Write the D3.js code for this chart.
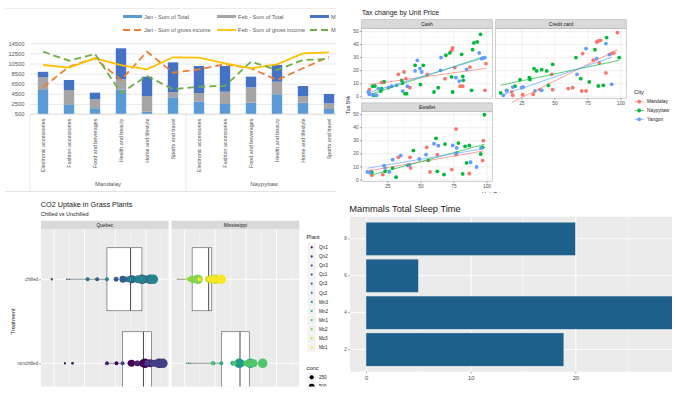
<!DOCTYPE html>
<html>
<head>
<meta charset="utf-8">
<script src="https://cdn.jsdelivr.net/npm/d3@7"></script>
<style>
  body { margin: 0; background: #fff; }
  svg { display: block; font-family: "Liberation Sans", Arial, sans-serif; }
</style>
</head>
<body>
<div id="chart"></div>
<script>
// ---------- data: sales by city / product line (Excel style chart) ----------
var cities = ["Mandalay", "Naypyitaw"];
var productLines = ["Electronic accessories", "Fashion accessories", "Food and beverages",
  "Health and beauty", "Home and lifestyle", "Sports and travel"];
var salesTicks = [500, 2500, 4500, 6500, 8500, 10500, 12500, 14500];
var janTotal = [5250, 2300, 1630, 5350, 950, 3800, 2950, 2480, 2740, 4400, 2740, 1490];
var febTotal = [2500, 2950, 1780, 2020, 3110, 1050, 1700, 2440, 3050, 2500, 1320, 1130];
var marTotal = [1100, 1980, 1310, 6140, 3820, 5880, 5350, 5090, 2100, 3300, 1980, 1840];
var janGross = [5790, 9870, 11530, 7230, 12840, 8680, 9350, 10340, 9550, 7230, 9550, 11850];
var febGross = [10200, 9670, 11530, 10200, 9350, 11730, 11650, 10540, 9550, 10340, 12520, 12720];
var marGross = [12840, 11050, 12380, 4660, 8030, 5390, 5910, 6050, 10860, 9210, 11190, 11390];

// ---------- data: tax vs unit price, [unit price, tax] ----------
var cityNames = ["Mandalay", "Naypyitaw", "Yangon"];
var cashMandalay = [[11.4,5.1],[11.4,2.0],[20.7,10.5],[22,11],[33.3,16.8],[37.6,18.6],[42.1,6.6],[39,13.5],
  [55.2,16.8],[68.6,13.5],[74.4,37],[73.7,35.2],[80,7.7],[82,7.7],[87.5,22.4],[98.8,4.6],[99.6,25],[76,22]];
var cashNaypyitaw = [[14.4,0.8],[15.6,0.8],[13.9,7.7],[15.6,7.9],[20.7,5.9],[20,4],[22.7,11],[35.8,12.2],
  [36.6,10.2],[38.4,2],[39.6,2],[46,23.7],[52.2,23.7],[60.3,3.3],[63.5,6.6],[69.3,31.4],[72.3,33.2],
  [73.6,14.8],[74.4,3.3],[81.2,32.1],[82,15.3],[82.4,12.2],[89.5,35.7],[90.5,40.8],[93,41.6],[95.5,47.4],
  [88.7,4.6],[50,9]];
var cashYangon = [[10.6,3.3],[11.4,1.5],[13.9,1.3],[16.9,0.8],[18.2,5.9],[25.8,6.6],[28.3,7.7],[32,8.4],
  [36.6,4],[40.1,7.7],[46,19.4],[47.7,27.5],[49.7,21.2],[51,18.6],[65.6,29.6],[65.3,19.9],[76.9,14.3],
  [79.4,11.7],[94.5,33.2],[96.3,28.8],[97.5,29.3],[98.8,29.6],[85,20.5]];
var creditMandalay = [[17.7,3.3],[18.5,0.8],[26,1.3],[34,1.5],[39.1,5.1],[48.7,5.1],[47.9,16.8],[60.5,5.9],
  [63.8,6.6],[71.4,32.7],[70.6,4.1],[73.9,4.1],[79.4,27.6],[82,41.6],[83.2,42.3],[85,42.8],[84,25.5],
  [89,17.9],[93.3,32.7],[95,33.2],[97.7,48.7]];
var creditNaypyitaw = [[9.4,2.6],[13.9,4.6],[20.2,7.7],[24,12.8],[31,14.3],[31.5,12.8],[34.6,21.2],[36.6,19.4],
  [40.4,20.4],[44.2,19.4],[48.7,24.5],[45.4,8.4],[66.3,29.6],[69.9,13.5],[76.4,11],[80.7,35.7],[83.2,7.9],
  [87,8.4],[89.5,44.9],[99,29.6]];
var creditYangon = [[11.4,0.8],[13.9,4.1],[18.5,7.1],[25.2,6.6],[26.4,7.1],[35.3,4.1],[40.4,4.6],[73.9,36.5],
  [67.1,16.8],[82,28.8],[89,40.3],[91.5,31.9],[93.3,9.2]];
var ewalletMandalay = [[13.2,3.3],[12.4,6.3],[21.5,3.8],[33.3,17],[42.2,17],[42.7,8.9],[54.8,24.6],[57.3,5.8],
  [62.8,19],[73.7,7.6],[77,38.6],[77,19],[87,4.6],[97.1,14.5],[97.6,29.7]];
var ewalletNaypyitaw = [[13.2,5.6],[23.3,6.3],[29,8.9],[31.6,1.8],[44.7,22.1],[56,14.7],[61.8,31.5],[62.8,6.3],
  [68.6,27.1],[67.9,3.8],[78.7,27.9],[82,4.3],[83.8,25.4],[85,12.7],[87,26.1],[95.6,19.5],[97.1,24.6],[98.4,49.5]];
var ewalletYangon = [[9.9,5.8],[11.9,5.1],[22.5,10.7],[23.3,8.9],[26.5,5.8],[29,15.2],[35.1,18.3],[40.4,10.9],
  [41.7,11.4],[49.2,15.7],[54.3,19],[60.3,27.4],[63.6,25.9],[74.4,26.1],[77.5,24.1],[77.5,20.3],[92.5,9.6],
  [95.9,24.1],[88,13.2]];
var taxTicks = [0, 10, 20, 30, 40, 50];
var priceTicks = [25, 50, 75, 100];

// ---------- data: CO2 uptake (grass plants) ----------
var plants = ["Qn1", "Qn2", "Qn3", "Qc1", "Qc3", "Qc2", "Mn3", "Mn2", "Mn1", "Mc2", "Mc3", "Mc1"];
var concLevels = [95, 175, 250, 350, 500, 675, 1000];
var uptake = [
  [16.0, 30.4, 34.8, 37.2, 35.3, 39.2, 39.7],
  [13.6, 27.3, 37.1, 41.8, 40.6, 41.4, 44.3],
  [16.2, 32.4, 40.3, 42.1, 42.9, 43.9, 45.5],
  [14.2, 24.1, 30.3, 34.6, 32.5, 35.4, 38.7],
  [15.1, 21.0, 38.1, 34.0, 38.9, 39.6, 41.4],
  [9.3, 27.3, 35.0, 38.8, 38.6, 37.5, 42.4],
  [11.3, 19.4, 25.8, 27.9, 28.5, 28.1, 27.8],
  [12.0, 22.0, 30.6, 31.8, 32.4, 31.1, 31.5],
  [10.6, 19.2, 26.2, 30.0, 30.9, 32.4, 35.5],
  [7.7, 11.4, 12.3, 13.0, 12.5, 13.7, 14.4],
  [10.6, 18.0, 17.9, 17.9, 17.9, 18.9, 19.9],
  [10.5, 14.9, 18.1, 18.9, 19.5, 22.2, 21.9]
];
var plantTypes = ["Quebec", "Mississippi"];
var treatments = ["chilled", "nonchilled"];
var uptakeTicks = [10, 15, 20, 25, 30, 35, 40, 45];

// ---------- data: mammals sleep ----------
var sleepGroups = ["8", "6", "4", "2"];
var sleepTotal = [20.0, 5.0, 30.5, 18.9];
var sleepTicks = [0, 10, 20];

var svg = d3.select("#chart").append("svg").attr("width", 680).attr("height", 394);
var defs = svg.append("defs");
function clip(id, x, y, w, h) {
  defs.append("clipPath").attr("id", id).append("rect")
    .attr("x", x).attr("y", y).attr("width", w).attr("height", h);
  return "url(#" + id + ")";
}

// faint frame lines of the dashboard
svg.append("line").attr("x1", 5).attr("x2", 336).attr("y1", 8.5).attr("y2", 8.5).attr("stroke", "#ececec");
svg.append("line").attr("x1", 5).attr("x2", 336).attr("y1", 191.5).attr("y2", 191.5).attr("stroke", "#e3e3e3");

// =====================================================================
// 1. Excel style stacked column + lines
// =====================================================================
var p1 = svg.append("g").attr("clip-path", clip("c1", 0, 0, 336, 191));
var xs1 = d3.scaleBand().domain(d3.range(12)).range([30, 342]).paddingInner(0.6).paddingOuter(0.3);
var ys1 = d3.scaleLinear().domain([500, 14500]).range([114, 43.3]);
var bw1 = xs1.bandwidth();

p1.append("g").attr("transform", "translate(30,0)")
  .call(d3.axisLeft(ys1).tickValues(salesTicks).tickSize(-312).tickFormat(""))
  .call(g => g.select(".domain").remove())
  .call(g => g.selectAll("line").attr("stroke", "#d9d9d9").attr("stroke-width", 0.6));

p1.append("g").attr("transform", "translate(24.5,0)")
  .call(d3.axisLeft(ys1).tickValues(salesTicks).tickSize(0).tickPadding(0).tickFormat(d3.format("d")))
  .call(g => g.select(".domain").remove())
  .call(g => g.selectAll("text").attr("fill", "#595959").attr("font-size", 5.8)
    .attr("font-family", "Liberation Sans, Arial, sans-serif"));

var rows = d3.range(12).map(i => ({ jan: janTotal[i], feb: febTotal[i], mar: marTotal[i] }));
var stacked = d3.stack().keys(["jan", "feb", "mar"])(rows);
var barColors = { jan: "#5b9bd5", feb: "#a5a5a5", mar: "#4472c4" };

p1.selectAll("g.series").data(stacked).enter().append("g")
  .attr("fill", d => barColors[d.key])
  .selectAll("rect").data(d => d).enter().append("rect")
  .attr("x", (d, i) => xs1(i))
  .attr("width", bw1)
  .attr("y", d => ys1(d[1]))
  .attr("height", d => ys1(Math.max(d[0], 500)) - ys1(d[1]));

var line1 = d3.line().x((d, i) => xs1(i) + bw1 / 2).y(d => ys1(d));
p1.append("path").datum(janGross).attr("d", line1).attr("fill", "none")
  .attr("stroke", "#ed7d31").attr("stroke-width", 1.8).attr("stroke-dasharray", "7,4");
p1.append("path").datum(febGross).attr("d", line1).attr("fill", "none")
  .attr("stroke", "#ffc000").attr("stroke-width", 1.8);
p1.append("path").datum(marGross).attr("d", line1).attr("fill", "none")
  .attr("stroke", "#70ad47").attr("stroke-width", 1.8).attr("stroke-dasharray", "7,4");

// category axis
var catLabels = [];
cities.forEach(c => productLines.forEach(p => catLabels.push(p)));
p1.selectAll("text.cat").data(catLabels).enter().append("text")
  .attr("transform", (d, i) => "translate(" + (xs1(i) + bw1 / 2 + 2) + ",118.5) rotate(-90)")
  .attr("text-anchor", "end")
  .attr("font-size", 5.4).attr("fill", "#595959")
  .text(d => d);
[30, 186, 342].forEach(x => {
  p1.append("line").attr("x1", x).attr("x2", x).attr("y1", 114).attr("y2", 191)
    .attr("stroke", "#d9d9d9").attr("stroke-width", 0.6);
});
p1.append("line").attr("x1", 30).attr("x2", 342).attr("y1", 114).attr("y2", 114)
  .attr("stroke", "#d9d9d9").attr("stroke-width", 0.6);
cities.forEach((c, k) => {
  p1.append("text").attr("x", (xs1(k * 6) + xs1(k * 6 + 5) + bw1) / 2).attr("y", 186)
    .attr("text-anchor", "middle").attr("font-size", 6).attr("fill", "#595959").text(c);
});

// legend (third column is cut off at the panel edge, only its first letter shows)
var leg1 = [
  { t: "Jan - Sum of Total", x: 123, y: 16.5, c: "#5b9bd5", kind: "bar" },
  { t: "Feb - Sum of Total", x: 217, y: 16.5, c: "#a5a5a5", kind: "bar" },
  { t: "M", x: 310, y: 16.5, c: "#4472c4", kind: "bar" },
  { t: "Jan - Sum of gross income", x: 123, y: 30, c: "#ed7d31", kind: "dash" },
  { t: "Feb - Sum of gross income", x: 217, y: 30, c: "#ffc000", kind: "solid" },
  { t: "M", x: 310, y: 30, c: "#70ad47", kind: "dash" }
];
leg1.forEach(d => {
  if (d.kind === "bar") {
    p1.append("rect").attr("x", d.x).attr("y", d.y - 1.5).attr("width", 19).attr("height", 3).attr("fill", d.c);
  } else {
    p1.append("line").attr("x1", d.x).attr("x2", d.x + 19).attr("y1", d.y).attr("y2", d.y)
      .attr("stroke", d.c).attr("stroke-width", 1.8).attr("stroke-dasharray", d.kind === "dash" ? "7,4" : null);
  }
  p1.append("text").attr("x", d.x + 21).attr("y", d.y + 2).attr("font-size", 5.6).attr("fill", "#595959").text(d.t);
});

// =====================================================================
// 2. Tax change by unit price (facets)
// =====================================================================
var p2 = svg.append("g").attr("clip-path", clip("c2", 337, 0, 343, 193));
var cityColors = ["#f8766d", "#00ba38", "#619cff"];
var panelW = 130.6, panelH = 70;
var facets = [
  { name: "Cash", x0: 361.7, y0: 28.3, sets: [cashMandalay, cashNaypyitaw, cashYangon], xAxis: false },
  { name: "Credit card", x0: 495.7, y0: 28.3, sets: [creditMandalay, creditNaypyitaw, creditYangon], xAxis: true },
  { name: "Ewallet", x0: 361.7, y0: 111.5, sets: [ewalletMandalay, ewalletNaypyitaw, ewalletYangon], xAxis: true }
];

function fitLine(pts) {
  var mx = d3.mean(pts, d => d[0]), my = d3.mean(pts, d => d[1]);
  var sxy = d3.sum(pts, d => (d[0] - mx) * (d[1] - my));
  var sxx = d3.sum(pts, d => (d[0] - mx) * (d[0] - mx));
  var b = sxy / sxx;
  var ext = d3.extent(pts, d => d[0]);
  return ext.map(x => [x, my + b * (x - mx)]);
}

facets.forEach(f => {
  var xs = d3.scaleLinear().domain([5.6, 104.4]).range([f.x0, f.x0 + panelW]);
  var ys = d3.scaleLinear().domain([-1.5, 52]).range([f.y0 + panelH, f.y0]);
  var g = p2.append("g");
  g.append("rect").attr("x", f.x0).attr("y", f.y0).attr("width", panelW).attr("height", panelH).attr("fill", "#fff");
  // minor grid
  [12.5, 37.5, 62.5, 87.5].forEach(v => g.append("line").attr("x1", xs(v)).attr("x2", xs(v))
    .attr("y1", f.y0).attr("y2", f.y0 + panelH).attr("stroke", "#f3f3f3").attr("stroke-width", 0.4));
  [5, 15, 25, 35, 45].forEach(v => g.append("line").attr("y1", ys(v)).attr("y2", ys(v))
    .attr("x1", f.x0).attr("x2", f.x0 + panelW).attr("stroke", "#f3f3f3").attr("stroke-width", 0.4));
  // major grid
  g.append("g").attr("transform", "translate(0," + (f.y0 + panelH) + ")")
    .call(d3.axisBottom(xs).tickValues(priceTicks).tickSize(-panelH).tickFormat(""))
    .call(a => a.select(".domain").remove())
    .call(a => a.selectAll("line").attr("stroke", "#e6e6e6").attr("stroke-width", 0.6));
  g.append("g").attr("transform", "translate(" + f.x0 + ",0)")
    .call(d3.axisLeft(ys).tickValues(taxTicks).tickSize(-panelW).tickFormat(""))
    .call(a => a.select(".domain").remove())
    .call(a => a.selectAll("line").attr("stroke", "#e6e6e6").attr("stroke-width", 0.6));

  f.sets.forEach((pts, k) => {
    g.append("g").selectAll("circle").data(pts).enter().append("circle")
      .attr("cx", d => xs(d[0])).attr("cy", d => ys(d[1])).attr("r", 1.9)
      .attr("fill", cityColors[k]);
  });
  f.sets.forEach((pts, k) => {
    g.append("path").datum(fitLine(pts))
      .attr("d", d3.line().x(d => xs(d[0])).y(d => ys(d[1])))
      .attr("stroke", cityColors[k]).attr("stroke-width", 0.9).attr("opacity", 0.75).attr("fill", "none");
  });

  g.append("rect").attr("x", f.x0).attr("y", f.y0).attr("width", panelW).attr("height", panelH)
    .attr("fill", "none").attr("stroke", "#b3b3b3").attr("stroke-width", 0.6);
  g.append("rect").attr("x", f.x0).attr("y", f.y0 - 8.6).attr("width", panelW).attr("height", 8.6)
    .attr("fill", "#d9d9d9").attr("stroke", "#b3b3b3").attr("stroke-width", 0.6);
  g.append("text").attr("x", f.x0 + panelW / 2).attr("y", f.y0 - 2.5).attr("text-anchor", "middle")
    .attr("font-size", 5).attr("fill", "#1a1a1a").text(f.name);

  if (f.x0 < 400) {
    g.append("g").attr("transform", "translate(" + f.x0 + ",0)")
      .call(d3.axisLeft(ys).tickValues(taxTicks).tickSize(1.8).tickPadding(1.2))
      .call(a => a.select(".domain").remove())
      .call(a => a.selectAll("line").attr("stroke", "#4d4d4d").attr("stroke-width", 0.5))
      .call(a => a.selectAll("text").attr("font-size", 4.8).attr("fill", "#4d4d4d"));
  }
  if (f.xAxis) {
    g.append("g").attr("transform", "translate(0," + (f.y0 + panelH) + ")")
      .call(d3.axisBottom(xs).tickValues(priceTicks).tickSize(1.8).tickPadding(1.2))
      .call(a => a.select(".domain").remove())
      .call(a => a.selectAll("line").attr("stroke", "#4d4d4d").attr("stroke-width", 0.5))
      .call(a => a.selectAll("text").attr("font-size", 4.8).attr("fill", "#4d4d4d"));
  }
});

p2.append("text").attr("x", 361.7).attr("y", 15).attr("font-size", 7).attr("fill", "#1a1a1a")
  .text("Tax change by Unit Price");
p2.append("text").attr("transform", "translate(350,105) rotate(-90)").attr("text-anchor", "middle")
  .attr("font-size", 5.5).attr("fill", "#1a1a1a").text("Tax 5%");
p2.append("text").attr("x", 494).attr("y", 196).attr("text-anchor", "middle")
  .attr("font-size", 5.5).attr("fill", "#1a1a1a").text("Unit Price");

p2.append("text").attr("x", 634).attr("y", 93.5).attr("font-size", 5.8).attr("fill", "#1a1a1a").text("City");
cityNames.forEach((c, k) => {
  var y = 101.7 + k * 8.8;
  p2.append("line").attr("x1", 634.5).attr("x2", 644).attr("y1", y).attr("y2", y)
    .attr("stroke", cityColors[k]).attr("stroke-width", 0.8).attr("opacity", 0.75);
  p2.append("circle").attr("cx", 639.2).attr("cy", y).attr("r", 1.9).attr("fill", cityColors[k]);
  p2.append("text").attr("x", 647).attr("y", y + 1.7).attr("font-size", 4.8).attr("fill", "#1a1a1a").text(c);
});

// =====================================================================
// 3. CO2 uptake in grass plants
// =====================================================================
var p3 = svg.append("g").attr("clip-path", clip("c3", 0, 193, 336, 193.5));
var viridis = ["#440154", "#482173", "#433e85", "#38598c", "#2d708e", "#25858e",
  "#1e9b8a", "#2bb07f", "#51c56a", "#85d54a", "#c2df23", "#fde725"];
var co2W = 127.6, co2Top = 229.3, co2Bot = 413.7;
var ys3 = d3.scalePoint().domain(treatments).range([279.3, 363.3]);
var rScale = d3.scaleLinear().domain([95, 1000]).range([0, 1]);
function rConc(c) { return 0.8 + 4 * Math.sqrt(rScale(c)); }

var obs = [];
plants.forEach((p, i) => {
  uptake[i].forEach((u, j) => {
    obs.push({
      plant: p, idx: i, conc: concLevels[j], uptake: u,
      type: p[0] === "Q" ? "Quebec" : "Mississippi",
      treat: p[1] === "n" ? "nonchilled" : "chilled"
    });
  });
});

plantTypes.forEach((type, k) => {
  var x0 = k === 0 ? 41 : 171.6;
  var xs = d3.scaleLinear().domain([5.81, 47.39]).range([x0, x0 + co2W]);
  var g = p3.append("g");
  g.append("rect").attr("x", x0).attr("y", co2Top).attr("width", co2W).attr("height", co2Bot - co2Top).attr("fill", "#ebebeb");
  uptakeTicks.forEach(v => {
    g.append("line").attr("x1", xs(v)).attr("x2", xs(v)).attr("y1", co2Top).attr("y2", co2Bot)
      .attr("stroke", "#fff").attr("stroke-width", v % 10 === 0 ? 0.9 : 0.45);
  });
  treatments.forEach(t => {
    g.append("line").attr("x1", x0).attr("x2", x0 + co2W).attr("y1", ys3(t)).attr("y2", ys3(t))
      .attr("stroke", "#fff").attr("stroke-width", 0.9);
  });
  g.append("rect").attr("x", x0).attr("y", co2Top - 8.6).attr("width", co2W).attr("height", 8.6).attr("fill", "#d9d9d9");
  g.append("text").attr("x", x0 + co2W / 2).attr("y", co2Top - 2.6).attr("text-anchor", "middle")
    .attr("font-size", 4.8).attr("fill", "#1a1a1a").text(type);

  treatments.forEach(t => {
    var vals = obs.filter(d => d.type === type && d.treat === t).map(d => d.uptake).sort(d3.ascending);
    var q1 = d3.quantile(vals, 0.25), med = d3.quantile(vals, 0.5), q3 = d3.quantile(vals, 0.75);
    var iqr = q3 - q1;
    var lo = d3.min(vals.filter(v => v >= q1 - 1.5 * iqr));
    var hi = d3.max(vals.filter(v => v <= q3 + 1.5 * iqr));
    var out = vals.filter(v => v < lo || v > hi);
    var cy = ys3(t), hh = 84 * 0.75 / 2;
    g.append("line").attr("x1", xs(lo)).attr("x2", xs(q1)).attr("y1", cy).attr("y2", cy).attr("stroke", "#333").attr("stroke-width", 0.5);
    g.append("line").attr("x1", xs(q3)).attr("x2", xs(hi)).attr("y1", cy).attr("y2", cy).attr("stroke", "#333").attr("stroke-width", 0.5);
    g.append("rect").attr("x", xs(q1)).attr("y", cy - hh).attr("width", xs(q3) - xs(q1)).attr("height", 2 * hh)
      .attr("fill", "#fff").attr("stroke", "#333").attr("stroke-width", 0.5);
    g.append("line").attr("x1", xs(med)).attr("x2", xs(med)).attr("y1", cy - hh).attr("y2", cy + hh)
      .attr("stroke", "#333").attr("stroke-width", 0.9);
    g.selectAll(null).data(out).enter().append("circle")
      .attr("cx", d => xs(d)).attr("cy", cy).attr("r", 1.1).attr("fill", "#000");
  });

  g.selectAll("circle.pt").data(obs.filter(d => d.type === type)).enter().append("circle")
    .attr("class", "pt")
    .attr("cx", d => xs(d.uptake)).attr("cy", d => ys3(d.treat)).attr("r", d => rConc(d.conc))
    .attr("fill", d => viridis[d.idx]);
});

p3.append("g").attr("transform", "translate(41,0)")
  .call(d3.axisLeft(ys3).tickSize(1.8).tickPadding(1.2))
  .call(a => a.select(".domain").remove())
  .call(a => a.selectAll("line").attr("stroke", "#4d4d4d").attr("stroke-width", 0.5))
  .call(a => a.selectAll("text").attr("font-size", 4.6).attr("fill", "#4d4d4d"));

p3.append("text").attr("x", 40.7).attr("y", 206.5).attr("font-size", 7.3).attr("fill", "#1a1a1a")
  .text("CO2 Uptake in Grass Plants");
p3.append("text").attr("x", 40.7).attr("y", 215.5).attr("font-size", 5.5).attr("fill", "#1a1a1a")
  .text("Chilled vs Unchilled");
p3.append("text").attr("transform", "translate(14.5,321.5) rotate(-90)").attr("text-anchor", "middle")
  .attr("font-size", 5.8).attr("fill", "#1a1a1a").text("Treatment");

p3.append("text").attr("x", 306.5).attr("y", 238.5).attr("font-size", 5.8).attr("fill", "#1a1a1a").text("Plant");
plants.forEach((p, i) => {
  var y = 247.3 + i * 9.1;
  p3.append("rect").attr("x", 307.5).attr("y", y - 4.4).attr("width", 8.4).attr("height", 8.8).attr("fill", "#f2f2f2");
  p3.append("circle").attr("cx", 311.7).attr("cy", y).attr("r", 1.1).attr("fill", viridis[i]);
  p3.append("text").attr("x", 319).attr("y", y + 1.7).attr("font-size", 4.6).attr("fill", "#1a1a1a").text(p);
});
p3.append("text").attr("x", 306.5).attr("y", 369.5).attr("font-size", 5.8).attr("fill", "#1a1a1a").text("conc");
[250, 500].forEach((c, i) => {
  var y = 377.3 + i * 9.4;
  p3.append("rect").attr("x", 307.5).attr("y", y - 4.6).attr("width", 8.4).attr("height", 9.2).attr("fill", "#f2f2f2");
  p3.append("circle").attr("cx", 311.7).attr("cy", y).attr("r", rConc(c) * 0.85).attr("fill", "#000");
  p3.append("text").attr("x", 319).attr("y", y + 1.7).attr("font-size", 4.6).attr("fill", "#1a1a1a").text(c);
});

// =====================================================================
// 4. Mammals total sleep time
// =====================================================================
var p4 = svg.append("g").attr("clip-path", clip("c4", 337, 193, 335, 201));
var xs4 = d3.scaleLinear().domain([-1.53, 32.1]).range([350, 702]);
var ys4 = d3.scaleBand().domain(sleepGroups).range([216.7, 371.7]).paddingInner(0.1).paddingOuter(0.15);

p4.append("rect").attr("x", 350).attr("y", 216.7).attr("width", 352).attr("height", 155).attr("fill", "#ebebeb");
[5, 15, 25].forEach(v => p4.append("line").attr("x1", xs4(v)).attr("x2", xs4(v)).attr("y1", 216.7).attr("y2", 371.7)
  .attr("stroke", "#fff").attr("stroke-width", 0.5));
p4.append("g").attr("transform", "translate(0,371.7)")
  .call(d3.axisBottom(xs4).tickValues([0, 10, 20, 30]).tickSize(-155).tickFormat(""))
  .call(a => a.select(".domain").remove())
  .call(a => a.selectAll("line").attr("stroke", "#fff").attr("stroke-width", 1));
p4.append("g").attr("transform", "translate(350,0)")
  .call(d3.axisLeft(ys4).tickSize(-352).tickFormat(""))
  .call(a => a.select(".domain").remove())
  .call(a => a.selectAll("line").attr("stroke", "#fff").attr("stroke-width", 1));

p4.selectAll("rect.bar").data(sleepGroups).enter().append("rect")
  .attr("class", "bar")
  .attr("x", xs4(0)).attr("y", d => ys4(d))
  .attr("width", (d, i) => xs4(sleepTotal[i]) - xs4(0))
  .attr("height", ys4.bandwidth())
  .attr("fill", "#1f5f8b").attr("stroke", "#dfe6ec").attr("stroke-width", 0.4);

p4.append("g").attr("transform", "translate(0,371.7)")
  .call(d3.axisBottom(xs4).tickValues(sleepTicks).tickSize(1.8).tickPadding(2))
  .call(a => a.select(".domain").remove())
  .call(a => a.selectAll("line").attr("stroke", "#4d4d4d").attr("stroke-width", 0.5))
  .call(a => a.selectAll("text").attr("font-size", 5.8).attr("fill", "#4d4d4d"));
p4.append("g").attr("transform", "translate(350,0)")
  .call(d3.axisLeft(ys4).tickSize(1.8).tickPadding(1.5))
  .call(a => a.select(".domain").remove())
  .call(a => a.selectAll("line").attr("stroke", "#4d4d4d").attr("stroke-width", 0.5))
  .call(a => a.selectAll("text").attr("font-size", 4.6).attr("fill", "#4d4d4d"));

p4.append("text").attr("x", 349.3).attr("y", 212).attr("font-size", 9.3).attr("fill", "#1a1a1a")
  .text("Mammals Total Sleep Time");
</script>
</body>
</html>
